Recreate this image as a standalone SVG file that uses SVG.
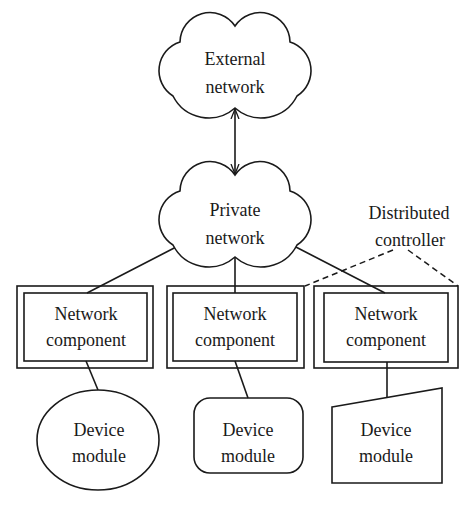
<svg xmlns="http://www.w3.org/2000/svg" width="474" height="507" viewBox="0 0 474 507">
<style>
.s{fill:none;stroke:#1a1a1a;stroke-width:1.6}
.w{fill:#fff;stroke:#1a1a1a;stroke-width:1.6}
.d{fill:none;stroke:#1a1a1a;stroke-width:1.5;stroke-dasharray:6,4}
text{font-family:"Liberation Serif","Times New Roman",serif;font-size:18px;fill:#1a1a1a;text-anchor:middle}
</style>
<defs>
<path id="cloud" d="M180,42 A30,30 0 0 1 235,26 A30,30 0 0 1 290,42 A30,30 0 0 1 297,96 A40,40 0 0 1 235,108 A40,40 0 0 1 173,96 A30,30 0 0 1 180,42 Z"/>
<marker id="ah" viewBox="0 0 10 10" refX="10" refY="5" markerWidth="10" markerHeight="10" markerUnits="userSpaceOnUse" orient="auto-start-reverse">
<path d="M0,1 L10,5 L0,9" fill="none" stroke="#1a1a1a" stroke-width="1.3"/>
</marker>
</defs>
<g id="connectors">
<line class="s" x1="235" y1="109" x2="235" y2="174" marker-start="url(#ah)" marker-end="url(#ah)"/>
<line class="s" x1="180" y1="245" x2="87" y2="293"/>
<line class="s" x1="235" y1="257" x2="235" y2="293"/>
<line class="s" x1="292" y1="245" x2="385" y2="293"/>
<line class="d" x1="393" y1="250" x2="305" y2="286"/>
<line class="d" x1="408" y1="250" x2="458" y2="286"/>
<line class="s" x1="86" y1="361" x2="98" y2="390"/>
<line class="s" x1="235" y1="361" x2="248" y2="398"/>
<line class="s" x1="387" y1="362" x2="387" y2="397"/>
</g>
<g id="external-network">
<use href="#cloud" class="w"/>
<text x="235" y="65">External</text>
<text x="235" y="93">network</text>
</g>
<g id="private-network">
<use href="#cloud" class="w" transform="translate(0,149)"/>
<text x="235" y="216">Private</text>
<text x="235" y="244">network</text>
</g>
<g id="distributed-controller">
<text x="409" y="219">Distributed</text>
<text x="410" y="246">controller</text>
</g>
<g id="nc1">
<rect class="s" x="17" y="286" width="136" height="82"/>
<rect class="s" x="24" y="293" width="123" height="68"/>
<text x="86" y="320">Network</text>
<text x="86" y="346">component</text>
</g>
<g id="nc2">
<rect class="s" x="167" y="286" width="137" height="82"/>
<rect class="s" x="173" y="293" width="124" height="68"/>
<text x="235" y="320">Network</text>
<text x="235" y="346">component</text>
</g>
<g id="nc3">
<rect class="s" x="314" y="286" width="144" height="82"/>
<rect class="s" x="324" y="293" width="124" height="69"/>
<text x="386" y="320">Network</text>
<text x="386" y="346">component</text>
</g>
<g id="dm1">
<ellipse class="s" cx="98" cy="440" rx="61" ry="50"/>
<text x="99" y="436">Device</text>
<text x="99" y="462">module</text>
</g>
<g id="dm2">
<rect class="s" x="194" y="398" width="109" height="75" rx="16" ry="16"/>
<text x="248" y="436">Device</text>
<text x="248" y="462">module</text>
</g>
<g id="dm3">
<path class="s" d="M332,407 L442,388 L442,483 L332,483 Z"/>
<text x="386" y="436">Device</text>
<text x="386" y="462">module</text>
</g>
</svg>
